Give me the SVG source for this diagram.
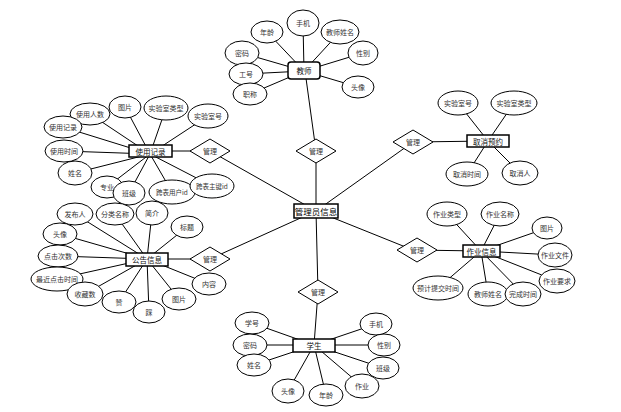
<svg xmlns="http://www.w3.org/2000/svg" width="621" height="412" viewBox="0 0 621 412">
<style>
.c line{stroke:#000;stroke-width:1}
ellipse{fill:#fff;stroke:#000;stroke-width:1}
.e{fill:#fff;stroke:#000;stroke-width:1.5}
.d{fill:#fff;stroke:#000;stroke-width:1}
text{font-family:"Noto Sans CJK SC","Noto Sans",sans-serif;font-size:7px;fill:#333;text-anchor:middle;dominant-baseline:central}
.t{font-size:7.5px;fill:#111}
.m{font-size:8.5px;fill:#000}
</style>
<rect width="621" height="412" fill="#fff"/>
<g class="c">
<line x1="316" y1="211" x2="316" y2="151"/>
<line x1="316" y1="211" x2="210" y2="151"/>
<line x1="316" y1="211" x2="210" y2="259"/>
<line x1="316" y1="211" x2="413" y2="142"/>
<line x1="316" y1="211" x2="413" y2="250"/>
<line x1="316" y1="211" x2="318" y2="292"/>
<line x1="316" y1="151" x2="305" y2="71"/>
<line x1="210" y1="151" x2="150" y2="151"/>
<line x1="210" y1="259" x2="147" y2="259"/>
<line x1="413" y1="142" x2="488" y2="141"/>
<line x1="413" y1="250" x2="481" y2="251"/>
<line x1="318" y1="292" x2="314" y2="345"/>
<line x1="304" y1="71" x2="303" y2="23"/>
<line x1="304" y1="71" x2="267" y2="32"/>
<line x1="304" y1="71" x2="340" y2="32"/>
<line x1="304" y1="71" x2="242" y2="53"/>
<line x1="304" y1="71" x2="363" y2="53"/>
<line x1="304" y1="71" x2="246" y2="74"/>
<line x1="304" y1="71" x2="250" y2="94"/>
<line x1="304" y1="71" x2="358" y2="87"/>
<line x1="150" y1="154" x2="90" y2="114"/>
<line x1="150" y1="154" x2="125" y2="107"/>
<line x1="150" y1="154" x2="166" y2="108"/>
<line x1="150" y1="154" x2="208" y2="116"/>
<line x1="150" y1="154" x2="63" y2="127"/>
<line x1="150" y1="154" x2="64" y2="151"/>
<line x1="150" y1="154" x2="75" y2="173"/>
<line x1="150" y1="154" x2="107" y2="187"/>
<line x1="150" y1="154" x2="129" y2="193"/>
<line x1="150" y1="154" x2="172" y2="192"/>
<line x1="150" y1="154" x2="212" y2="186"/>
<line x1="147" y1="259" x2="75" y2="214"/>
<line x1="147" y1="259" x2="115" y2="214"/>
<line x1="147" y1="259" x2="152" y2="213"/>
<line x1="147" y1="259" x2="187" y2="227"/>
<line x1="147" y1="259" x2="60" y2="234"/>
<line x1="147" y1="259" x2="58" y2="256"/>
<line x1="147" y1="259" x2="57" y2="279"/>
<line x1="147" y1="259" x2="85" y2="294"/>
<line x1="147" y1="259" x2="119" y2="302"/>
<line x1="147" y1="259" x2="149" y2="312"/>
<line x1="147" y1="259" x2="179" y2="299"/>
<line x1="147" y1="259" x2="209" y2="284"/>
<line x1="488" y1="141" x2="458" y2="103"/>
<line x1="488" y1="141" x2="514" y2="103"/>
<line x1="488" y1="141" x2="467" y2="174"/>
<line x1="488" y1="141" x2="520" y2="173"/>
<line x1="481" y1="251" x2="447" y2="214"/>
<line x1="481" y1="251" x2="500" y2="214"/>
<line x1="481" y1="251" x2="547" y2="228"/>
<line x1="481" y1="251" x2="555" y2="255"/>
<line x1="481" y1="251" x2="557" y2="281"/>
<line x1="481" y1="251" x2="438" y2="288"/>
<line x1="481" y1="251" x2="488" y2="294"/>
<line x1="481" y1="251" x2="523" y2="294"/>
<line x1="314" y1="345" x2="252" y2="323"/>
<line x1="314" y1="345" x2="250" y2="345"/>
<line x1="314" y1="345" x2="254" y2="365"/>
<line x1="314" y1="345" x2="376" y2="324"/>
<line x1="314" y1="345" x2="384" y2="345"/>
<line x1="314" y1="345" x2="383" y2="368"/>
<line x1="314" y1="345" x2="362" y2="386"/>
<line x1="314" y1="345" x2="326" y2="395"/>
<line x1="314" y1="345" x2="288" y2="391"/>
</g>
<g id="center"><rect class="e" x="294" y="204" width="44" height="14"/><text class="m" x="316" y="211">管理员信息</text></g>
<g id="rel-top"><polygon class="d" points="296,151 316,139 336,151 316,163"/><text x="316" y="151">管理</text></g>
<g id="rel-lu"><polygon class="d" points="190,151 210,139 230,151 210,163"/><text x="210" y="151">管理</text></g>
<g id="rel-ll"><polygon class="d" points="190,259 210,247 230,259 210,271"/><text x="210" y="259">管理</text></g>
<g id="rel-ru"><polygon class="d" points="393,142 413,130 433,142 413,154"/><text x="413" y="142">管理</text></g>
<g id="rel-rl"><polygon class="d" points="397,250 417,238 437,250 417,262"/><text x="417" y="250">管理</text></g>
<g id="rel-b"><polygon class="d" points="298,292 318,280 338,292 318,304"/><text x="318" y="292">管理</text></g>

<g id="teacher"><rect class="e" x="288" y="62" width="32" height="17" rx="3"/><text class="t" x="304" y="70.5">教师</text></g>
<g id="t1"><ellipse cx="303" cy="23" rx="16" ry="13"/><text x="303" y="23">手机</text></g>
<g id="t2"><ellipse cx="267" cy="32" rx="16" ry="11"/><text x="267" y="32">年龄</text></g>
<g id="t3"><ellipse cx="340" cy="32" rx="19" ry="12"/><text x="340" y="32">教师姓名</text></g>
<g id="t4"><ellipse cx="242" cy="53" rx="17" ry="12"/><text x="242" y="53">密码</text></g>
<g id="t5"><ellipse cx="363" cy="53" rx="15" ry="12"/><text x="363" y="53">性别</text></g>
<g id="t6"><ellipse cx="246" cy="74" rx="17" ry="11"/><text x="246" y="74">工号</text></g>
<g id="t7"><ellipse cx="250" cy="94" rx="17" ry="11"/><text x="250" y="94">职称</text></g>
<g id="t8"><ellipse cx="358" cy="87" rx="16" ry="11"/><text x="358" y="87">头像</text></g>

<g id="usage"><rect class="e" x="129" y="145" width="43" height="12"/><text class="t" x="150.5" y="151">使用记录</text></g>
<g id="u1"><ellipse cx="90" cy="114" rx="20" ry="11"/><text x="90" y="114">使用人数</text></g>
<g id="u2"><ellipse cx="125" cy="107" rx="16" ry="11"/><text x="125" y="107">图片</text></g>
<g id="u3"><ellipse cx="166" cy="108" rx="22" ry="12"/><text x="166" y="108">实验室类型</text></g>
<g id="u4"><ellipse cx="208" cy="116" rx="20" ry="12"/><text x="208" y="116">实验室号</text></g>
<g id="u5"><ellipse cx="63" cy="127" rx="19" ry="11"/><text x="63" y="127">使用记录</text></g>
<g id="u6"><ellipse cx="64" cy="151" rx="19" ry="11"/><text x="64" y="151">使用时间</text></g>
<g id="u7"><ellipse cx="75" cy="173" rx="17" ry="12"/><text x="75" y="173">姓名</text></g>
<g id="u8"><ellipse cx="107" cy="187" rx="16" ry="11"/><text x="107" y="187">专业</text></g>
<g id="u9"><ellipse cx="129" cy="193" rx="16" ry="12"/><text x="129" y="193">班级</text></g>
<g id="u10"><ellipse cx="172" cy="192" rx="23" ry="12"/><text x="172" y="192" style="font-size:6.5px">跨表用户id</text></g>
<g id="u11"><ellipse cx="212" cy="186" rx="22" ry="12"/><text x="212" y="186" style="font-size:6.5px">跨表主键id</text></g>

<g id="notice"><rect class="e" x="126" y="253" width="42" height="13"/><text class="t" x="147" y="259.5">公告信息</text></g>
<g id="n1"><ellipse cx="75" cy="214" rx="18" ry="11"/><text x="75" y="214">发布人</text></g>
<g id="n2"><ellipse cx="115" cy="214" rx="19" ry="11"/><text x="115" y="214">分类名称</text></g>
<g id="n3"><ellipse cx="152" cy="213" rx="16" ry="12"/><text x="152" y="213">简介</text></g>
<g id="n4"><ellipse cx="187" cy="227" rx="16" ry="11"/><text x="187" y="227">标题</text></g>
<g id="n5"><ellipse cx="60" cy="234" rx="17" ry="11"/><text x="60" y="234">头像</text></g>
<g id="n6"><ellipse cx="58" cy="256" rx="20" ry="11"/><text x="58" y="256">点击次数</text></g>
<g id="n7"><ellipse cx="57" cy="279" rx="26" ry="12"/><text x="57" y="279">最近点击时间</text></g>
<g id="n8"><ellipse cx="85" cy="294" rx="18" ry="12"/><text x="85" y="294">收藏数</text></g>
<g id="n9"><ellipse cx="119" cy="302" rx="17" ry="11"/><text x="119" y="302">赞</text></g>
<g id="n10"><ellipse cx="149" cy="312" rx="16" ry="11"/><text x="149" y="312">踩</text></g>
<g id="n11"><ellipse cx="179" cy="299" rx="17" ry="11"/><text x="179" y="299">图片</text></g>
<g id="n12"><ellipse cx="209" cy="284" rx="17" ry="11"/><text x="209" y="284">内容</text></g>

<g id="cancel"><rect class="e" x="467" y="135" width="42" height="12"/><text class="t" x="488" y="141">取消预约</text></g>
<g id="c1"><ellipse cx="458" cy="103" rx="20" ry="12"/><text x="458" y="103">实验室号</text></g>
<g id="c2"><ellipse cx="514" cy="103" rx="23" ry="12"/><text x="514" y="103">实验室类型</text></g>
<g id="c3"><ellipse cx="467" cy="174" rx="21" ry="12"/><text x="467" y="174">取消时间</text></g>
<g id="c4"><ellipse cx="520" cy="173" rx="18" ry="12"/><text x="520" y="173">取消人</text></g>

<g id="homework"><rect class="e" x="463" y="245" width="37" height="12"/><text class="t" x="481.5" y="251">作业信息</text></g>
<g id="h1"><ellipse cx="447" cy="214" rx="20" ry="12"/><text x="447" y="214">作业类型</text></g>
<g id="h2"><ellipse cx="500" cy="214" rx="19" ry="12"/><text x="500" y="214">作业名称</text></g>
<g id="h3"><ellipse cx="547" cy="228" rx="15" ry="11"/><text x="547" y="228">图片</text></g>
<g id="h4"><ellipse cx="555" cy="255" rx="17" ry="12"/><text x="555" y="255">作业文件</text></g>
<g id="h5"><ellipse cx="557" cy="281" rx="18" ry="12"/><text x="557" y="281">作业要求</text></g>
<g id="h6"><ellipse cx="438" cy="288" rx="25" ry="12"/><text x="438" y="288">预计提交时间</text></g>
<g id="h7"><ellipse cx="488" cy="294" rx="20" ry="12"/><text x="488" y="294">教师姓名</text></g>
<g id="h8"><ellipse cx="523" cy="294" rx="18" ry="12"/><text x="523" y="294">完成时间</text></g>

<g id="student"><rect class="e" x="293" y="339" width="42" height="13"/><text class="t" x="314" y="345.5">学生</text></g>
<g id="s1"><ellipse cx="252" cy="323" rx="17" ry="11"/><text x="252" y="323">学号</text></g>
<g id="s2"><ellipse cx="250" cy="345" rx="17" ry="11"/><text x="250" y="345">密码</text></g>
<g id="s3"><ellipse cx="254" cy="365" rx="17" ry="11"/><text x="254" y="365">姓名</text></g>
<g id="s4"><ellipse cx="376" cy="324" rx="16" ry="11"/><text x="376" y="324">手机</text></g>
<g id="s5"><ellipse cx="384" cy="345" rx="16" ry="11"/><text x="384" y="345">性别</text></g>
<g id="s6"><ellipse cx="383" cy="368" rx="16" ry="11"/><text x="383" y="368">班级</text></g>
<g id="s7"><ellipse cx="362" cy="386" rx="17" ry="12"/><text x="362" y="386">作业</text></g>
<g id="s8"><ellipse cx="326" cy="395" rx="17" ry="11"/><text x="326" y="395">年龄</text></g>
<g id="s9"><ellipse cx="288" cy="391" rx="16" ry="12"/><text x="288" y="391">头像</text></g>
</svg>
